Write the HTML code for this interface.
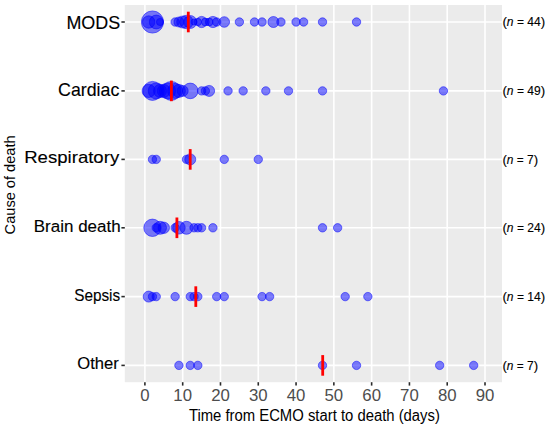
<!DOCTYPE html>
<html><head><meta charset="utf-8"><style>
html,body{margin:0;padding:0;background:#fff;width:550px;height:428px;overflow:hidden}
svg{display:block}
text{font-family:"Liberation Sans",sans-serif}
</style></head><body>
<svg width="550" height="428" viewBox="0 0 550 428">

<rect x="124.8" y="5.0" width="377.2" height="377.2" fill="#EBEBEB"/>
<g stroke="#fff" stroke-width="1.6"><line x1="124.8" x2="502.0" y1="22.0" y2="22.0"/><line x1="124.8" x2="502.0" y1="90.9" y2="90.9"/><line x1="124.8" x2="502.0" y1="159.4" y2="159.4"/><line x1="124.8" x2="502.0" y1="227.8" y2="227.8"/><line x1="124.8" x2="502.0" y1="296.6" y2="296.6"/><line x1="124.8" x2="502.0" y1="365.4" y2="365.4"/><line x1="144.90" x2="144.90" y1="5.0" y2="382.2"/><line x1="182.69" x2="182.69" y1="5.0" y2="382.2"/><line x1="220.48" x2="220.48" y1="5.0" y2="382.2"/><line x1="258.27" x2="258.27" y1="5.0" y2="382.2"/><line x1="296.06" x2="296.06" y1="5.0" y2="382.2"/><line x1="333.85" x2="333.85" y1="5.0" y2="382.2"/><line x1="371.64" x2="371.64" y1="5.0" y2="382.2"/><line x1="409.43" x2="409.43" y1="5.0" y2="382.2"/><line x1="447.22" x2="447.22" y1="5.0" y2="382.2"/><line x1="485.01" x2="485.01" y1="5.0" y2="382.2"/></g>
<g stroke="#2a2a2a" stroke-width="1.6"><line x1="121.4" x2="124.8" y1="22.0" y2="22.0"/><line x1="121.4" x2="124.8" y1="90.9" y2="90.9"/><line x1="121.4" x2="124.8" y1="159.4" y2="159.4"/><line x1="121.4" x2="124.8" y1="227.8" y2="227.8"/><line x1="121.4" x2="124.8" y1="296.6" y2="296.6"/><line x1="121.4" x2="124.8" y1="365.4" y2="365.4"/><line x1="144.90" x2="144.90" y1="382.2" y2="385.6"/><line x1="182.69" x2="182.69" y1="382.2" y2="385.6"/><line x1="220.48" x2="220.48" y1="382.2" y2="385.6"/><line x1="258.27" x2="258.27" y1="382.2" y2="385.6"/><line x1="296.06" x2="296.06" y1="382.2" y2="385.6"/><line x1="333.85" x2="333.85" y1="382.2" y2="385.6"/><line x1="371.64" x2="371.64" y1="382.2" y2="385.6"/><line x1="409.43" x2="409.43" y1="382.2" y2="385.6"/><line x1="447.22" x2="447.22" y1="382.2" y2="385.6"/><line x1="485.01" x2="485.01" y1="382.2" y2="385.6"/></g>
<g fill="#0000FF" fill-opacity="0.5" stroke="#0000FF" stroke-opacity="0.5" stroke-width="1.0"><circle cx="152.46" cy="22.0" r="11.10"/><circle cx="148.68" cy="22.0" r="6.20"/><circle cx="156.24" cy="22.0" r="6.90"/><circle cx="160.02" cy="22.0" r="3.60"/><circle cx="175.13" cy="22.0" r="4.20"/><circle cx="178.91" cy="22.0" r="5.00"/><circle cx="182.69" cy="22.0" r="6.00"/><circle cx="186.47" cy="22.0" r="6.70"/><circle cx="190.25" cy="22.0" r="6.50"/><circle cx="194.03" cy="22.0" r="3.10"/><circle cx="197.81" cy="22.0" r="3.70"/><circle cx="201.59" cy="22.0" r="5.60"/><circle cx="205.36" cy="22.0" r="3.90"/><circle cx="209.14" cy="22.0" r="3.90"/><circle cx="212.92" cy="22.0" r="5.60"/><circle cx="216.70" cy="22.0" r="4.20"/><circle cx="224.26" cy="22.0" r="5.30"/><circle cx="239.38" cy="22.0" r="4.20"/><circle cx="254.49" cy="22.0" r="4.20"/><circle cx="262.05" cy="22.0" r="4.20"/><circle cx="273.39" cy="22.0" r="5.50"/><circle cx="280.94" cy="22.0" r="4.20"/><circle cx="296.06" cy="22.0" r="4.20"/><circle cx="303.62" cy="22.0" r="4.20"/><circle cx="322.51" cy="22.0" r="4.20"/><circle cx="356.52" cy="22.0" r="4.20"/><circle cx="148.68" cy="90.9" r="6.60"/><circle cx="152.46" cy="90.9" r="9.50"/><circle cx="156.24" cy="90.9" r="8.00"/><circle cx="160.02" cy="90.9" r="6.50"/><circle cx="163.80" cy="90.9" r="6.50"/><circle cx="167.57" cy="90.9" r="8.00"/><circle cx="171.35" cy="90.9" r="9.50"/><circle cx="175.13" cy="90.9" r="7.50"/><circle cx="178.91" cy="90.9" r="6.50"/><circle cx="182.69" cy="90.9" r="5.50"/><circle cx="190.25" cy="90.9" r="7.80"/><circle cx="201.59" cy="90.9" r="4.20"/><circle cx="205.36" cy="90.9" r="4.20"/><circle cx="209.14" cy="90.9" r="5.50"/><circle cx="228.04" cy="90.9" r="4.20"/><circle cx="243.15" cy="90.9" r="4.20"/><circle cx="265.83" cy="90.9" r="4.20"/><circle cx="288.50" cy="90.9" r="4.20"/><circle cx="322.51" cy="90.9" r="4.20"/><circle cx="443.44" cy="90.9" r="4.20"/><circle cx="152.46" cy="159.4" r="4.20"/><circle cx="156.24" cy="159.4" r="4.20"/><circle cx="186.47" cy="159.4" r="4.20"/><circle cx="190.25" cy="159.4" r="5.50"/><circle cx="224.26" cy="159.4" r="4.20"/><circle cx="258.27" cy="159.4" r="4.20"/><circle cx="152.46" cy="227.8" r="8.70"/><circle cx="156.24" cy="227.8" r="4.20"/><circle cx="160.02" cy="227.8" r="6.50"/><circle cx="163.80" cy="227.8" r="5.70"/><circle cx="175.13" cy="227.8" r="4.20"/><circle cx="178.91" cy="227.8" r="6.30"/><circle cx="186.47" cy="227.8" r="6.50"/><circle cx="194.03" cy="227.8" r="4.20"/><circle cx="197.81" cy="227.8" r="4.20"/><circle cx="201.59" cy="227.8" r="4.20"/><circle cx="212.92" cy="227.8" r="4.20"/><circle cx="322.51" cy="227.8" r="4.20"/><circle cx="337.63" cy="227.8" r="4.20"/><circle cx="148.68" cy="296.6" r="5.50"/><circle cx="152.46" cy="296.6" r="4.20"/><circle cx="156.24" cy="296.6" r="4.20"/><circle cx="175.13" cy="296.6" r="4.20"/><circle cx="190.25" cy="296.6" r="4.20"/><circle cx="194.03" cy="296.6" r="4.20"/><circle cx="197.81" cy="296.6" r="4.20"/><circle cx="216.70" cy="296.6" r="4.20"/><circle cx="224.26" cy="296.6" r="4.20"/><circle cx="262.05" cy="296.6" r="4.20"/><circle cx="269.61" cy="296.6" r="4.20"/><circle cx="345.19" cy="296.6" r="4.20"/><circle cx="367.86" cy="296.6" r="4.20"/><circle cx="178.91" cy="365.4" r="4.20"/><circle cx="190.25" cy="365.4" r="4.20"/><circle cx="197.81" cy="365.4" r="4.20"/><circle cx="322.51" cy="365.4" r="4.20"/><circle cx="356.52" cy="365.4" r="4.20"/><circle cx="439.66" cy="365.4" r="4.20"/><circle cx="473.67" cy="365.4" r="4.20"/></g>
<g fill="#FF0000"><rect x="186.90" y="11.7" width="2.8" height="20.6"/><rect x="170.00" y="80.6" width="2.8" height="20.6"/><rect x="188.80" y="149.1" width="2.8" height="20.6"/><rect x="175.50" y="217.5" width="2.8" height="20.6"/><rect x="194.40" y="286.3" width="2.8" height="20.6"/><rect x="321.30" y="355.1" width="2.8" height="20.6"/></g>
<g fill="#4D4D4D" font-size="16.8"><text x="144.90" y="400.7" text-anchor="middle">0</text><text x="182.69" y="400.7" text-anchor="middle">10</text><text x="220.48" y="400.7" text-anchor="middle">20</text><text x="258.27" y="400.7" text-anchor="middle">30</text><text x="296.06" y="400.7" text-anchor="middle">40</text><text x="333.85" y="400.7" text-anchor="middle">50</text><text x="371.64" y="400.7" text-anchor="middle">60</text><text x="409.43" y="400.7" text-anchor="middle">70</text><text x="447.22" y="400.7" text-anchor="middle">80</text><text x="485.01" y="400.7" text-anchor="middle">90</text></g>
<g fill="#000" stroke="#000" stroke-width="0.12"><text x="120.2" y="29.0" font-size="19.0" text-anchor="end" textLength="53.8" lengthAdjust="spacingAndGlyphs">MODS</text><text x="119.3" y="95.6" font-size="19.0" text-anchor="end" textLength="61.2" lengthAdjust="spacingAndGlyphs">Cardiac</text><text x="119.2" y="162.7" font-size="16.6" text-anchor="end" textLength="95" lengthAdjust="spacingAndGlyphs">Respiratory</text><text x="120.6" y="231.9" font-size="16.3" text-anchor="end" textLength="86.8" lengthAdjust="spacingAndGlyphs">Brain death</text><text x="120.2" y="301.0" font-size="16.1" text-anchor="end" textLength="46" lengthAdjust="spacingAndGlyphs">Sepsis</text><text x="118.8" y="368.9" font-size="15.6" text-anchor="end" textLength="41.5" lengthAdjust="spacingAndGlyphs">Other</text></g>
<g fill="#000" stroke="#000" stroke-width="0.12"><text x="502.4" y="26.2" font-size="12.2" textLength="42.8" lengthAdjust="spacingAndGlyphs"><tspan font-size="13.5">(</tspan><tspan font-style="italic">n</tspan> = 44<tspan font-size="13.5">)</tspan></text><text x="502.4" y="95.1" font-size="12.2" textLength="42.8" lengthAdjust="spacingAndGlyphs"><tspan font-size="13.5">(</tspan><tspan font-style="italic">n</tspan> = 49<tspan font-size="13.5">)</tspan></text><text x="502.4" y="163.6" font-size="12.2" textLength="35.7" lengthAdjust="spacingAndGlyphs"><tspan font-size="13.5">(</tspan><tspan font-style="italic">n</tspan> = 7<tspan font-size="13.5">)</tspan></text><text x="502.4" y="232.0" font-size="12.2" textLength="42.8" lengthAdjust="spacingAndGlyphs"><tspan font-size="13.5">(</tspan><tspan font-style="italic">n</tspan> = 24<tspan font-size="13.5">)</tspan></text><text x="502.4" y="300.8" font-size="12.2" textLength="42.8" lengthAdjust="spacingAndGlyphs"><tspan font-size="13.5">(</tspan><tspan font-style="italic">n</tspan> = 14<tspan font-size="13.5">)</tspan></text><text x="502.4" y="369.6" font-size="12.2" textLength="35.7" lengthAdjust="spacingAndGlyphs"><tspan font-size="13.5">(</tspan><tspan font-style="italic">n</tspan> = 7<tspan font-size="13.5">)</tspan></text></g>
<text x="188.9" y="421.0" font-size="15.6" textLength="251" lengthAdjust="spacingAndGlyphs" fill="#000">Time from ECMO start to death (days)</text>
<text transform="translate(15.3,234.4) rotate(-90)" x="0" y="0" font-size="14.9" textLength="99" lengthAdjust="spacingAndGlyphs" fill="#000">Cause of death</text>
</svg></body></html>
